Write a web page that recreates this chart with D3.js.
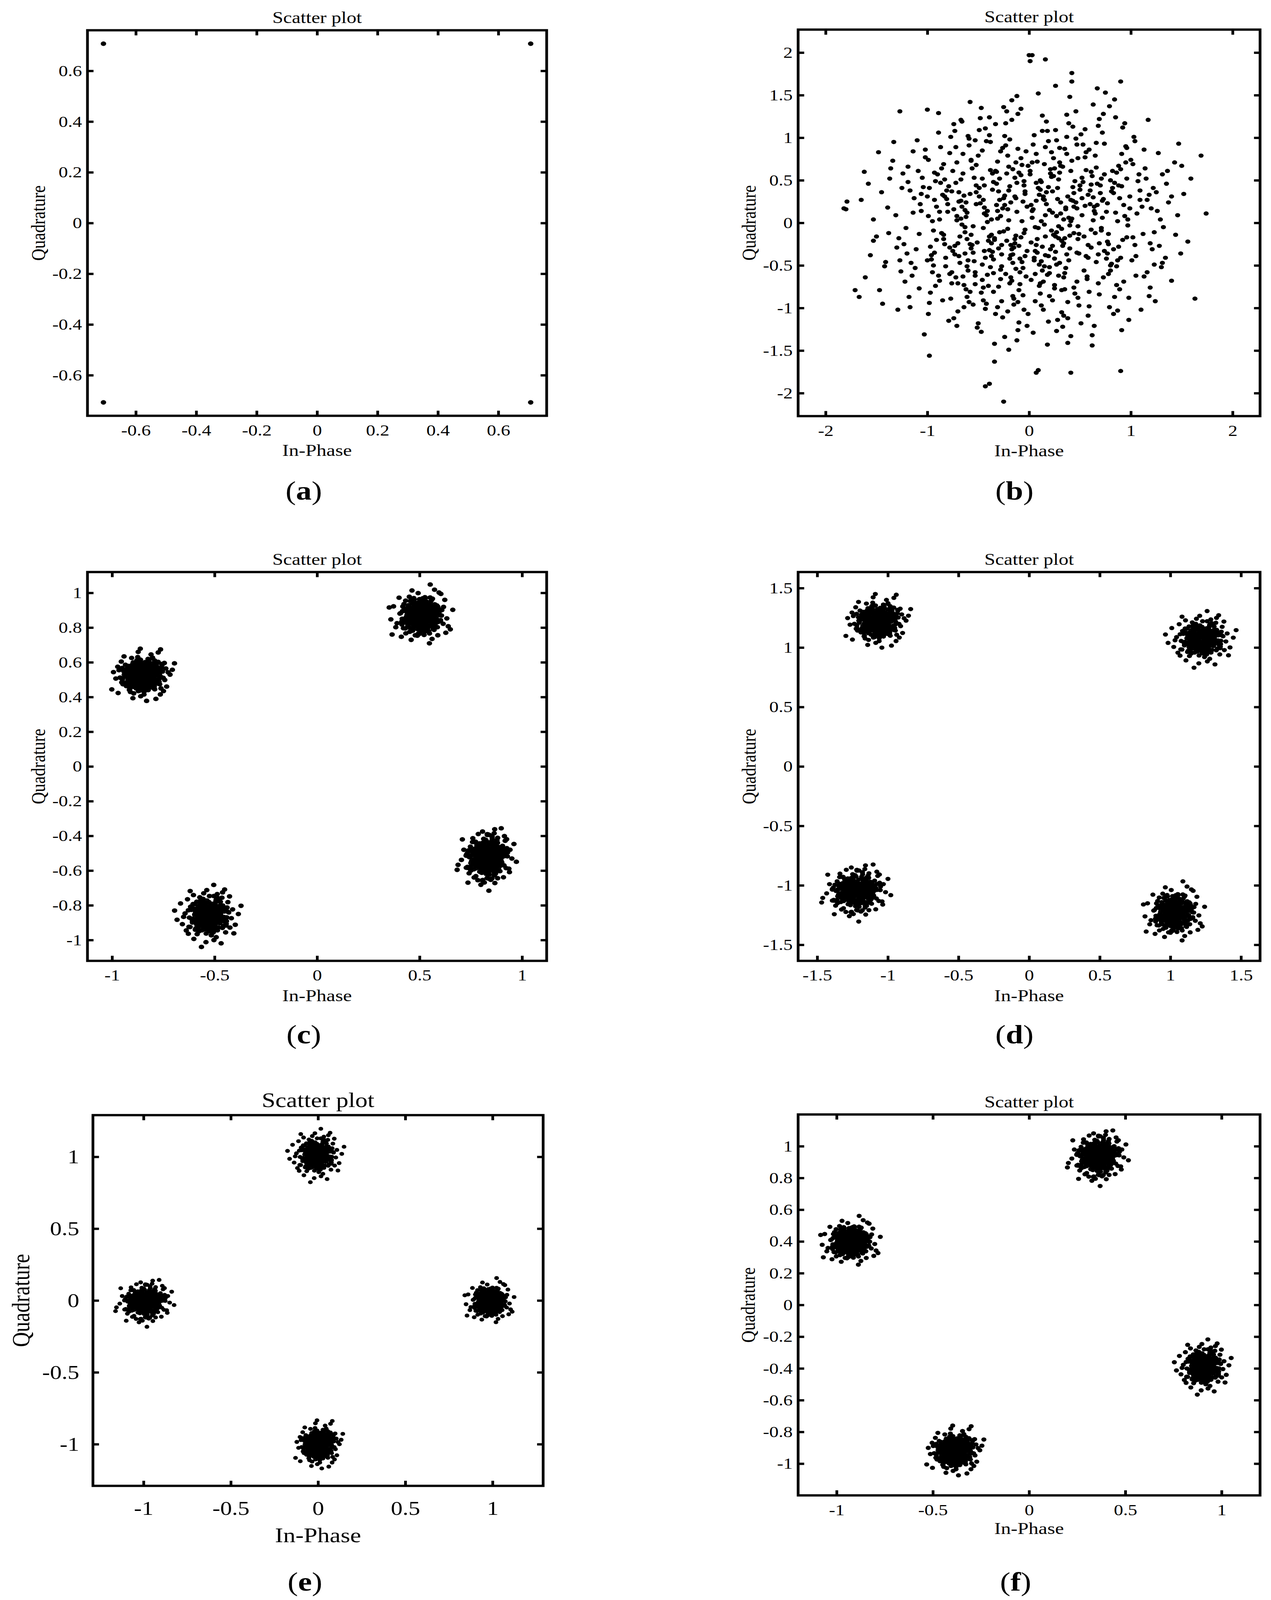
<!DOCTYPE html>
<html>
<head>
<meta charset="utf-8">
<script src="https://cdn.jsdelivr.net/npm/d3@7/dist/d3.min.js"></script>
<style>
  html, body { margin: 0; padding: 0; background: #fff; overflow: hidden; width: 100%; height: 100%; }
  svg { display: block; width: 100vw; height: 100vh; }
</style>
</head>
<body>
<svg id="fig"></svg>
<script>
// ---- data ----
var panelIds = ["a", "b", "c", "d", "e", "f"];
var axisLimits = [0.76, 2.27, 1.12, 1.635, 1.29, 1.2];

var xTicks = [
  [-0.6, -0.4, -0.2, 0, 0.2, 0.4, 0.6],
  [-2, -1, 0, 1, 2],
  [-1, -0.5, 0, 0.5, 1],
  [-1.5, -1, -0.5, 0, 0.5, 1, 1.5],
  [-1, -0.5, 0, 0.5, 1],
  [-1, -0.5, 0, 0.5, 1]
];
var yTicks = [
  [-0.6, -0.4, -0.2, 0, 0.2, 0.4, 0.6],
  [-2, -1.5, -1, -0.5, 0, 0.5, 1, 1.5, 2],
  [-1, -0.8, -0.6, -0.4, -0.2, 0, 0.2, 0.4, 0.6, 0.8, 1],
  [-1.5, -1, -0.5, 0, 0.5, 1, 1.5],
  [-1, -0.5, 0, 0.5, 1],
  [-1, -0.8, -0.6, -0.4, -0.2, 0, 0.2, 0.4, 0.6, 0.8, 1]
];

// (a) ideal QPSK symbols
var idealSymbols = [[0.7071, 0.7071], [-0.7071, 0.7071], [-0.7071, -0.7071], [0.7071, -0.7071]];

// (b) received symbols (noise cloud)
var noiseCloud = [
[0.12,-0.45],[-0.83,0.31],[0.47,0.92],[-0.21,-0.07],[1.05,-0.62],[-0.36,0.58],[0.64,0.19],[-1.27,-0.44],[0.03,0.71],[-0.55,-0.96],
[0.29,-0.18],[-0.08,1.34],[0.91,0.43],[-0.67,0.05],[0.38,-1.12],[-1.02,0.86],[0.15,0.27],[-0.44,-0.33],[1.46,0.09],[-0.19,-0.71],
[0.56,-0.39],[-0.73,1.08],[0.22,0.54],[-0.31,0.14],[0.84,-0.87],[-1.53,-0.21],[0.07,-0.26],[-0.49,0.41],[0.69,1.22],[-0.12,-1.38],
[0.33,0.66],[-0.95,-0.58],[1.18,0.33],[-0.26,0.88],[0.48,-0.04],[-0.61,-0.19],[0.11,-0.83],[-0.04,0.37],[0.77,-0.22],[-1.14,0.12],
[0.26,1.61],[-0.38,-0.52],[0.95,0.71],[-0.71,-1.21],[0.41,0.02],[-0.16,0.63],[1.31,-0.47],[-0.87,0.47],[0.18,-0.61],[-0.52,0.22],
[0.62,-1.44],[-0.29,-0.11],[0.05,1.03],[-1.36,0.64],[0.73,0.28],[-0.09,-0.42],[0.37,0.81],[-0.64,-0.73],[1.12,-0.13],[-0.23,1.17],
[0.53,0.48],[-0.78,-0.29],[0.14,-1.02],[-0.42,0.96],[0.86,-0.51],[-0.98,-0.94],[0.31,0.11],[-0.14,-0.24],[1.59,0.52],[-0.57,0.73],
[0.08,-0.35],[-0.34,-1.63],[0.66,0.94],[-1.21,-0.06],[0.44,-0.76],[-0.05,0.49],[0.99,0.17],[-0.69,0.36],[0.24,-0.14],[-0.47,-0.82],
[0.79,1.37],[-0.18,0.24],[0.35,-0.59],[-0.89,1.29],[1.24,-0.92],[-0.27,-0.37],[0.58,0.33],[-1.65,0.27],[0.02,-0.67],[-0.62,0.07],
[0.43,1.13],[-0.11,-0.93],[0.88,-0.28],[-0.75,0.61],[0.19,0.42],[-0.39,-0.16],[1.03,1.01],[-1.08,-0.77],[0.27,-1.27],[-0.21,0.79],
[0.61,-0.08],[-0.46,0.52],[0.16,0.89],[-0.82,-0.41],[1.37,0.24],[-0.13,-0.54],[0.49,-0.97],[-0.58,1.42],[0.72,0.06],[-1.17,0.38],
[0.04,0.16],[-0.33,-1.07],[0.93,-0.69],[-0.66,-0.02],[0.3,0.59],[-0.02,-1.21],[1.08,0.57],[-0.91,0.19],[0.21,-0.31],[-0.53,-0.62],
[0.67,1.58],[-0.24,0.32],[0.39,-0.44],[-1.42,-0.51],[0.81,0.37],[-0.07,0.68],[0.54,-0.16],[-0.74,-1.12],[0.13,1.26],[-0.37,0.04],
[1.21,-0.31],[-0.99,0.74],[0.25,-0.73],[-0.15,-0.29],[0.71,0.52],[-0.59,0.91],[0.06,-0.05],[-1.29,-1.02],[0.46,0.24],[-0.28,-0.66],
[0.98,-1.14],[-0.81,0.28],[0.17,0.36],[-0.43,1.11],[1.49,-0.36],[-0.1,-0.79],[0.59,0.86],[-0.68,-0.47],[0.34,-0.24],[-1.05,0.53],
[0.09,1.52],[-0.51,-0.23],[0.85,0.12],[-0.2,-1.49],[0.42,0.73],[-0.86,-0.12],[1.14,0.64],[-0.32,0.46],[0.23,-0.91],[-0.63,0.15],
[0.76,-0.42],[-1.11,-0.31],[0.01,0.57],[-0.45,-0.91],[0.63,0.03],[-0.17,1.44],[1.27,0.82],[-0.72,-0.64],[0.32,-0.07],[-0.06,0.25],
[0.89,-0.78],[-1.48,0.83],[0.28,0.41],[-0.35,-0.43],[0.51,1.04],[-0.93,-0.35],[0.1,-0.49],[-0.56,0.64],[1.02,-0.17],[-0.25,-0.1],
[-0.14,0.53],[0.74,-0.33],[-0.61,-0.87],[0.36,0.18],[-1.19,0.66],[0.05,-0.41],[0.92,1.12],[-0.42,0.09],[0.19,-1.16],[-0.79,0.43],
[1.32,-0.05],[-0.03,0.84],[0.57,-0.63],[-0.27,-0.26],[0.82,0.61],[-1.56,-0.38],[0.14,0.31],[-0.48,1.23],[0.65,-0.12],[-0.88,-0.68],
[0.27,0.97],[-0.09,-0.58],[1.09,0.27],[-0.67,0.26],[0.45,-0.83],[-0.31,0.72],[0.03,0.06],[-1.03,-1.31],[0.7,0.44],[-0.22,-0.21],
[0.4,1.48],[-0.54,-0.45],[1.43,0.71],[-0.77,1.01],[0.2,-0.52],[-0.12,0.13],[0.87,-1.03],[-0.95,0.02],[0.31,0.67],[-0.4,-0.74],
[0.6,0.22],[-1.25,0.41],[0.09,-1.73],[-0.58,0.34],[1.16,-0.58],[-0.19,0.98],[0.52,0.09],[-0.84,-0.19],[0.13,-0.28],[-0.33,0.61],
[0.96,0.88],[-0.7,-1.04],[0.23,0.12],[-0.06,-0.85],[0.78,-0.25],[-1.38,-0.12],[0.37,1.27],[-0.44,0.18],[0.68,-0.71],[-0.16,-0.47],
[1.22,0.41],[-0.9,0.57],[0.07,0.47],[-0.5,-1.18],[0.47,-0.35],[-0.25,1.36],[0.94,0.08],[-1.12,-0.53],[0.29,-0.62],[-0.65,0.81],
[0.15,-0.02],[-0.36,-0.34],[1.56,-0.22],[-0.8,0.13],[0.55,0.77],[-0.01,-1.07],[0.83,0.35],[-0.6,-0.56],[0.26,1.09],[-1.33,0.95],
[0.66,-0.46],[-0.13,0.29],[0.41,-1.33],[-0.73,-0.27],[1.04,0.96],[-0.29,0.52],[0.11,-0.71],[-0.97,-0.82],[0.5,0.39],[-0.41,0.01],
[0.75,1.53],[-0.18,-0.64],[0.34,0.04],[-1.61,-0.64],[0.9,-0.41],[-0.52,0.68],[0.02,0.21],[-0.34,-1.42],[1.19,-0.76],[-0.85,0.33],
[0.22,0.83],[-0.08,-0.17],[0.62,0.55],[-0.63,-0.36],[0.38,-0.93],[-1.07,0.22],[0.97,-0.03],[-0.23,0.91],[0.48,-0.19],[-0.46,-0.67],
[1.35,0.46],[-0.74,1.16],[0.16,-0.38],[-0.3,0.37],[0.69,-0.84],[-1.18,-0.87],[0.04,0.92],[-0.55,-0.04],[0.86,0.59],[-0.11,-1.26],
[0.43,0.26],[-0.92,0.49],[0.58,-1.09],[-0.37,-0.14],[1.11,0.19],[-0.2,0.66],[0.3,-0.47],[-1.45,0.36],[0.72,1.06],[-0.64,-0.99],
[0.12,0.02],[-0.05,0.44],[0.8,-0.56],[-0.83,-0.25],[0.46,1.31],[-0.28,-0.55],[1.28,-0.27],[-0.62,0.24],[0.21,0.63],[-1.0,-0.44],
[0.64,0.14],[-0.15,-0.96],[0.35,0.87],[-0.49,0.31],[0.91,-1.26],[-0.76,-0.58],[0.08,-0.19],[-0.39,1.03],[1.47,0.93],[-0.94,-0.09],
[0.25,-0.77],[-0.21,0.16],[0.56,0.62],[-1.22,-0.69],[0.77,0.23],[-0.04,-0.39],[0.4,-0.15],[-0.71,0.71],[1.01,-0.44],[-0.35,-0.81],
[0.17,1.19],[-0.57,-0.3],[0.84,0.47],[-1.31,0.09],[0.32,-1.05],[-0.1,0.59],[0.61,-0.29],[-0.87,0.89],[0.06,-0.6],[-0.45,0.27],
[1.17,1.21],[-0.68,-0.16],[0.28,0.28],[-0.26,-1.11],[0.73,-0.64],[-1.09,0.61],[0.45,0.49],[-0.17,-0.31],[0.99,0.31],[-0.53,-0.72],
[0.33,-0.27],[-0.72,0.47],[0.18,1.08],[-0.41,-0.61],[1.26,0.14],[-0.05,-0.12],[0.59,-0.81],[-1.14,0.84],[0.44,0.35],[-0.24,-1.34],
[0.88,0.67],[-0.63,-0.05],[0.09,0.41],[-0.38,0.95],[1.05,-0.39],[-0.96,-0.43],[0.27,-0.11],[-0.13,0.71],[0.67,0.21],[-1.5,-0.16],
[0.51,-1.18],[-0.32,0.21],[0.14,-0.69],[-0.77,-0.89],[0.94,1.17],[-0.19,0.43],[0.39,0.06],[-0.56,-0.26],[1.4,-0.68],[-0.86,0.64],
[0.06,-0.33],[-0.47,1.35],[0.71,-0.09],[-1.2,-0.36],[0.24,0.76],[-0.09,-0.72],[0.82,0.41],[-0.66,0.19],[0.36,-0.53],[-0.28,0.08],
[1.13,0.86],[-0.99,-1.07],[0.2,0.15],[-0.43,-0.41],[0.63,1.39],[-0.15,-0.89],[0.49,-0.36],[-0.81,0.38],[0.01,0.61],[-1.37,0.52],
[0.79,-0.99],[-0.34,-0.18],[0.29,0.51],[-0.6,1.02],[1.23,-0.11],[-0.07,-0.46],[0.53,0.92],[-0.89,-0.62],[0.16,-0.16],[-0.52,0.44],
[0.97,0.04],[-1.06,0.14],[0.38,-1.41],[-0.22,0.58],[0.74,0.57],[-0.69,-0.39],[0.1,0.33],[-0.31,-0.99],[1.52,0.34],[-0.78,0.82],
[0.25,-0.42],[-0.02,0.19],[0.57,-0.66],[-1.26,-0.57],[0.85,1.24],[-0.44,0.11],[0.32,-0.21],[-0.58,-0.81],[1.07,0.49],[-0.17,1.21],
[0.47,0.17],[-0.93,0.27],[0.12,-0.97],[-0.36,0.39],[0.68,-0.37],[-1.44,-0.95],[0.21,0.58],[-0.1,-0.27],[0.89,0.29],[-0.65,0.58],
[0.42,1.66],[-0.27,-0.51],[1.3,-0.52],[-0.84,-0.14],[0.07,0.81],[-0.51,-1.23],[0.6,0.38],[-0.2,0.03],[0.35,-0.78],[-1.1,0.97],
[0.76,0.13],[-0.39,-0.32],[0.19,0.96],[-0.71,0.08],[1.18,-0.86],[-0.03,-0.63],[0.52,0.53],[-0.97,-0.28],[0.31,0.24],[-0.46,0.85],
[0.92,-0.2],[-1.58,0.46],[0.04,-1.29],[-0.25,0.29],[0.65,0.79],[-0.61,-0.51],[0.4,-0.03],[-0.14,-0.19],[1.36,0.61],[-0.79,-1.15],
[0.23,0.37],[-0.54,0.53],[0.81,-0.48],[-1.0,0.31],[0.13,-0.56],[-0.33,1.16],[0.58,-0.26],[-0.7,-0.71],[1.0,0.74],[-0.18,-0.38],
[0.37,1.01],[-0.88,0.13],[0.48,-0.88],[-0.04,0.34],[0.72,0.26],[-1.23,-0.25],[0.26,-0.34],[-0.45,-0.06],[1.1,-1.02],[-0.59,0.99],
[0.15,0.69],[-0.3,-0.75],[0.61,0.45],[-0.75,-0.33],[0.34,-0.64],[-1.34,0.73],[0.87,0.02],[-0.11,1.28],[0.44,-0.12],[-0.64,0.32],
[1.25,0.36],[-0.21,-1.04],[0.03,0.14],[-0.92,-0.74],[0.55,1.1],[-0.48,0.23],[0.78,-0.6],[-0.12,0.47],[0.28,-1.14],[-1.16,-0.47],
[0.66,0.65],[-0.37,-0.24],[0.17,0.22],[-0.57,0.74],[1.44,-0.14],[-0.82,-0.51],[0.41,0.61],[-0.06,-0.53],[0.83,-0.31],[-0.67,1.21],
[0.22,-0.09],[-0.42,-0.95],[0.96,0.52],[-1.04,0.42],[0.3,0.88],[-0.16,-0.37],[0.64,-1.21],[-0.74,0.16],[0.11,0.5],[-0.35,-0.59],
[0.52,0.29],[-0.6,-0.44],[0.2,-0.86],[-0.93,0.59],[1.15,0.52],[-0.26,0.17],[0.4,-0.3],[-0.49,1.09],[0.78,-0.13],[-1.3,-0.29],
[0.08,0.72],[-0.17,-0.68],[0.95,0.9],[-0.71,0.03],[0.33,-1.22],[-0.35,0.48],[1.34,-0.41],[-0.85,-0.91],[0.14,0.28],[-0.04,-0.08],
[0.67,0.46],[-1.13,0.29],[0.46,0.99],[-0.55,-0.35],[0.86,-0.73],[-0.22,1.31],[0.27,0.08],[-0.78,-0.6],[1.2,0.17],[-0.1,-1.17],
[0.58,-0.41],[-0.98,0.41],[0.12,0.48],[-0.4,-0.21],[0.73,1.28],[-1.47,-0.79],[0.35,-0.18],[-0.28,0.84],[1.04,-0.26],[-0.63,-0.11],
[0.05,-0.44],[-0.52,0.36],[0.9,0.63],[-0.16,-0.86],[0.44,0.19],[-1.08,-0.13],[0.62,-1.32],[-0.32,0.6],[1.5,0.67],[-0.73,-0.37],
[0.24,0.55],[-0.07,0.02],[0.8,-0.5],[-0.89,1.06],[0.38,0.31],[-0.43,-1.01],[1.09,0.38],[-0.2,0.38],[0.15,-0.51],[-1.19,0.48],
[0.56,0.83],[-0.62,-0.78],[0.29,-0.04],[-0.11,0.87],[0.98,-0.88],[-0.8,0.22],[0.02,-0.23],[-0.46,-0.49],[0.7,0.35],[-1.39,0.18],
[0.47,-0.69],[-0.24,1.02],[1.29,0.04],[-0.67,0.51],[0.18,-1.43],[-0.34,-0.2],[0.61,0.6],[-0.94,-0.5],[0.36,0.16],[-0.08,0.56],
[0.84,1.45],[-0.57,-0.14],[0.1,-0.74],[-1.02,0.77],[1.13,-0.63],[-0.3,-0.3],[0.5,0.44],[-0.76,0.37],[0.23,-0.27],[-0.47,-1.28],
[0.93,0.21],[-0.14,0.31],[0.39,1.17],[-1.28,-0.18],[0.69,-0.24],[-0.38,0.62],[0.06,-0.92],[-0.65,-0.63],[1.4,0.31],[-0.88,0.04],
[0.3,0.71],[-0.19,-0.42],[0.77,-0.36],[-0.53,0.97],[0.16,0.09],[-1.17,-0.99],[0.54,-0.56],[-0.01,0.67],[1.02,0.69],[-0.7,-0.24],
[0.26,-0.16],[-0.41,0.14],[0.83,-1.07],[-0.96,-0.38],[0.43,0.42],[-0.12,1.49],[0.65,0.11],[-0.59,-0.93],[1.23,-0.49],[-0.29,0.27],
[0.11,0.39],[-0.84,0.69],[0.49,-0.13],[-0.23,-0.6],[0.91,0.81],[-1.53,0.04],[0.2,-0.59],[-0.44,0.44],[0.71,-0.06],[-0.66,1.19],
[0.37,-0.37],[-0.05,-1.02],[1.16,0.27],[-0.91,-0.2],[0.25,0.64],[-0.31,0.05],[0.59,-0.98],[-0.76,-0.71],[0.07,0.26],[-0.5,0.79],
[1.31,0.57],[-1.06,0.34],[0.42,0.05],[-0.18,-0.26],[0.74,0.93],[-0.61,0.12],[0.32,-0.79],[-0.37,-0.39],[0.96,-0.17],[-1.24,0.58],
[0.13,1.08],[-0.53,-0.58],[0.63,0.3],[-0.02,-0.33],[0.87,-0.44],[-0.83,0.51],[0.48,0.76],[-0.27,-0.92],[1.06,0.11],[-0.69,0.25],
[0.19,-0.39],[-0.39,1.24],[0.55,0.2],[-1.15,-0.62],[0.8,0.5],[-0.13,-0.15],[0.34,-1.09],[-0.72,0.89],[1.19,-0.24],[-0.24,0.21],
[0.09,-0.06],[-0.58,-0.25],[0.68,1.14],[-0.99,0.08],[0.27,-0.49],[-0.08,0.76],[0.88,0.44],[-0.45,-0.76],[0.41,0.27],[-1.41,-0.46],
[-1.82,0.17],[-1.79,0.25],[-1.8,0.16],[0.0,1.97],[0.03,1.97],[0.01,1.9],[0.16,1.92],[-0.25,-2.1],[-0.43,-1.92],[-0.39,-1.89],
[1.74,0.11],[1.69,0.79],[1.63,-0.89],[-1.71,-0.79],[-1.67,-0.87],[-1.62,0.6],[0.9,1.66],[0.42,1.76],[0.07,-1.76],[0.41,-1.76],
[0.9,-1.74],[-0.98,-1.56],[-1.27,1.31],[-1.0,1.33]
];
var noiseSigma = 0.68;

// (c)-(f) cluster centres and outer spreads (sx, sy)
var centresC = [[0.51, 0.865], [-0.85, 0.525], [-0.53, -0.86], [0.83, -0.525]];
var spreadsC = [[0.068, 0.075], [0.07, 0.07], [0.068, 0.075], [0.062, 0.075]];
var centresD = [[-1.07, 1.22], [1.22, 1.07], [-1.22, -1.05], [1.03, -1.235]];
var spreadsD = [[0.105, 0.105], [0.105, 0.1], [0.105, 0.1], [0.095, 0.11]];
var centresE = [[-0.01, 1.01], [-0.99, -0.01], [0.985, -0.01], [0.005, -1.005]];
var spreadsE = [[0.068, 0.078], [0.072, 0.068], [0.062, 0.068], [0.062, 0.078]];
var centresF = [[0.36, 0.935], [-0.925, 0.395], [-0.385, -0.92], [0.905, -0.39]];
var spreadsF = [[0.068, 0.073], [0.068, 0.068], [0.068, 0.073], [0.062, 0.073]];
// dense core of each cluster relative to its outer spread, and halo size
var coreRatio = 0.62, haloCount = 100;

// ---- layout ----
var W = 3255, H = 4864;
var std = { tick: 48, label: 51, title: 50, xPad: 26, yPad: 14, xLab: 122, yLab: 109, tGap: 22 };
var layout = [
  { x0: 224, x1: 1400, y0: 92, y1: 1264, r: 7, t: std, lx: 778, ly: 1519 },
  { x0: 2044, x1: 3227, y0: 90, y1: 1265, r: 6.5, t: std, lx: 2598, ly: 1519 },
  { x0: 224, x1: 1400, y0: 1739, y1: 2921, r: 7, t: std, lx: 778, ly: 3172 },
  { x0: 2044, x1: 3227, y0: 1739, y1: 2921, r: 6.5, t: std, lx: 2598, ly: 3172 },
  { x0: 238, x1: 1391, y0: 3390, y1: 4517, r: 6, t: { tick: 60, label: 63, title: 63, xPad: 45, yPad: 35, xLab: 171, yLab: 163, tGap: 25 }, lx: 781, ly: 4835 },
  { x0: 2044, x1: 3227, y0: 3388, y1: 4546, r: 6.5, t: { tick: 48, label: 51, title: 50, xPad: 26, yPad: 14, xLab: 117, yLab: 111, tGap: 21 }, lx: 2601, ly: 4835 }
];
var serif = "'Liberation Serif', 'Times New Roman', Times, serif";

// the drawing is made in reference pixels and fitted to the window
var svg = d3.select("#fig")
  .attr("viewBox", "0 0 " + W + " " + H)
  .attr("preserveAspectRatio", "none");

svg.append("rect").attr("width", W).attr("height", H).attr("fill", "#fff");

// noisy clusters: centre + spread * normalised noise sample (core + halo)
function clusters(centres, spreads, shift) {
  var n = Math.ceil(noiseCloud.length / 4), out = [];
  centres.forEach(function (c, k) {
    var a = (k + shift) % 4, b = (k + shift + 2) % 4;
    var core = noiseCloud.slice(a * n, (a + 1) * n);
    var halo = noiseCloud.slice(b * n, b * n + haloCount);
    core.forEach(function (p) {
      out.push([c[0] + coreRatio * spreads[k][0] * p[0] / noiseSigma, c[1] + coreRatio * spreads[k][1] * p[1] / noiseSigma]);
    });
    halo.forEach(function (p) {
      out.push([c[0] + spreads[k][0] * p[0] / noiseSigma, c[1] + spreads[k][1] * p[1] / noiseSigma]);
    });
  });
  return out;
}

var panelPoints = [
  idealSymbols,
  noiseCloud,
  clusters(centresC, spreadsC, 0),
  clusters(centresD, spreadsD, 1),
  clusters(centresE, spreadsE, 2),
  clusters(centresF, spreadsF, 3)
];

function drawPanel(i) {
  var L = layout[i], T = L.t, lim = axisLimits[i];
  var tickLen = 15.5;

  var x = d3.scaleLinear().domain([-lim, lim]).range([L.x0, L.x1]);
  var y = d3.scaleLinear().domain([-lim, lim]).range([L.y1, L.y0]);

  var g = svg.append("g").attr("class", "panel-" + panelIds[i]);

  //Points
  g.append("g")
    .selectAll("circle")
    .data(panelPoints[i])
    .enter()
    .append("circle")
    .attr("cx", function (d) { return x(d[0]); })
    .attr("cy", function (d) { return y(d[1]); })
    .attr("r", L.r)
    .attr("fill", "#000");

  //Axes (ticks inside, on all four sides)
  var fmt = function (d) { return String(d); };
  var axes = [
    { a: d3.axisBottom(x).tickValues(xTicks[i]).tickFormat(fmt).tickPadding(T.xPad), t: "translate(0," + L.y1 + ")" },
    { a: d3.axisTop(x).tickValues(xTicks[i]).tickFormat(""), t: "translate(0," + L.y0 + ")" },
    { a: d3.axisLeft(y).tickValues(yTicks[i]).tickFormat(fmt).tickPadding(T.yPad), t: "translate(" + L.x0 + ",0)" },
    { a: d3.axisRight(y).tickValues(yTicks[i]).tickFormat(""), t: "translate(" + L.x1 + ",0)" }
  ];
  axes.forEach(function (ax) {
    var ag = g.append("g")
      .attr("transform", ax.t)
      .call(ax.a.tickSizeInner(-tickLen).tickSizeOuter(0));
    ag.select(".domain").remove();
    ag.attr("font-family", serif).attr("font-size", T.tick);
    ag.selectAll(".tick line").attr("stroke", "#000").attr("stroke-width", 7);
    ag.selectAll(".tick text").attr("fill", "#000");
  });

  //Frame
  g.append("rect")
    .attr("x", L.x0).attr("y", L.y0)
    .attr("width", L.x1 - L.x0).attr("height", L.y1 - L.y0)
    .attr("fill", "none").attr("stroke", "#000").attr("stroke-width", 7);

  var cx = (L.x0 + L.x1) / 2, cy = (L.y0 + L.y1) / 2;

  g.append("text")
    .attr("x", cx).attr("y", L.y0 - T.tGap)
    .attr("text-anchor", "middle")
    .attr("font-family", serif).attr("font-size", T.title)
    .text("Scatter plot");

  g.append("text")
    .attr("x", cx).attr("y", L.y1 + T.xLab)
    .attr("text-anchor", "middle")
    .attr("font-family", serif).attr("font-size", T.label)
    .text("In-Phase");

  g.append("text")
    .attr("transform", "translate(" + (L.x0 - T.yLab) + "," + cy + ") rotate(-90)")
    .attr("text-anchor", "middle")
    .attr("font-family", serif).attr("font-size", T.label)
    .text("Quadrature");

  //Sub-figure label, e.g. (a)
  var lab = g.append("text")
    .attr("x", L.lx).attr("y", L.ly)
    .attr("text-anchor", "middle")
    .attr("font-family", serif).attr("font-size", 80);
  lab.append("tspan").text("(");
  lab.append("tspan").attr("font-weight", "bold").text(panelIds[i]);
  lab.append("tspan").text(")");
}

panelIds.forEach(function (id, i) { drawPanel(i); });
</script>
</body>
</html>
